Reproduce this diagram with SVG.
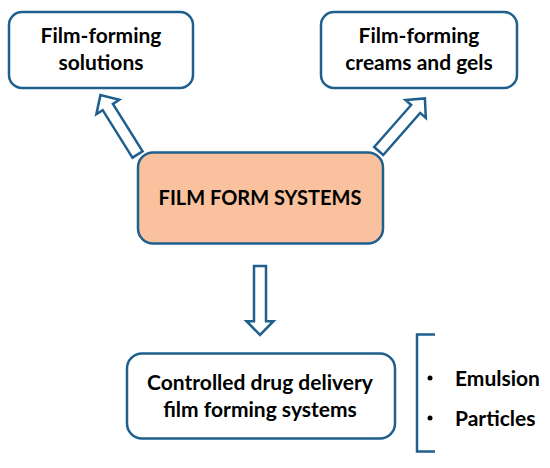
<svg xmlns="http://www.w3.org/2000/svg" width="550" height="468" viewBox="0 0 550 468">
<style>
.box{fill:#ffffff;stroke:#1f5f8e;stroke-width:2.5}
.main{fill:#f9c19d;stroke:#1f5f8e;stroke-width:2.5}
.arr{fill:#ffffff;stroke:#1f5f8e;stroke-width:2.5;stroke-linejoin:miter}
.t{font-family:Lato,"Open Sans","Liberation Sans",sans-serif;font-weight:bold;font-size:21px;fill:#000000;text-anchor:middle}
.l{font-family:Lato,"Open Sans","Liberation Sans",sans-serif;font-weight:bold;font-size:21px;fill:#000000}
</style>
<defs>
<path id="blk" d="M0,-6 H56 V-13.5 L70,0 L56,13.5 V6 H0 Z"/>
</defs>
<g id="connectors">
<use href="#blk" class="arr" transform="translate(137.5,154.5) rotate(-122)"/>
<use href="#blk" class="arr" transform="translate(378.7,151) rotate(-48.7)"/>
<use href="#blk" class="arr" transform="translate(260,266) rotate(90) scale(0.985,1)"/>
</g>
<g id="n1">
<rect class="box" x="9" y="12" width="184" height="76" rx="13"/>
<text class="t" x="101" y="43">Film-forming</text>
<text class="t" x="101" y="70">solutions</text>
</g>
<g id="n2">
<rect class="box" x="321" y="12" width="196" height="76" rx="13"/>
<text class="t" x="419" y="43">Film-forming</text>
<text class="t" x="419" y="70">creams and gels</text>
</g>
<g id="center">
<rect class="main" x="138" y="152.5" width="245" height="91" rx="15"/>
<text class="t" x="260" y="205" style="font-size:20px">FILM FORM SYSTEMS</text>
</g>
<g id="n3">
<rect class="box" x="127" y="353.5" width="268" height="85" rx="15"/>
<text class="t" x="260" y="390">Controlled drug delivery</text>
<text class="t" x="260" y="417">film forming systems</text>
</g>
<g id="list">
<path d="M435,334.5 H417 V451.5 H435" fill="none" stroke="#1f5f8e" stroke-width="2.5"/>
<circle cx="430" cy="378" r="2.5" fill="#000"/>
<circle cx="430" cy="418" r="2.5" fill="#000"/>
<text class="l" x="455" y="386">Emulsion</text>
<text class="l" x="455" y="426">Particles</text>
</g>
</svg>
